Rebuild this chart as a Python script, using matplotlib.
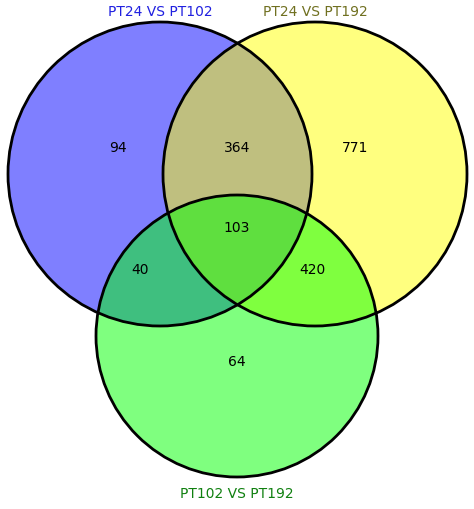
import matplotlib
matplotlib.use("Agg")
import matplotlib.pyplot as plt
from matplotlib.patches import Circle

# set names, colours and region counts
set_names = ["PT24 VS PT102", "PT24 VS PT192", "PT102 VS PT192"]
set_colors = ["#0000ff", "#ffff00", "#00ff00"]
title_colors = ["#2020e0", "#707020", "#108010"]
region_labels = ["A", "B", "C", "AB", "AC", "BC", "ABC"]
region_counts = [94, 771, 64, 364, 40, 420, 103]

# layout in pixel space
centers = [(160, 174), (315, 174), (237, 336)]
radii = [152, 152, 141]
title_pos = [(160, 12), (315, 12), (237, 494)]
region_pos = {"A": (118, 148), "B": (355, 148), "C": (237, 362), "AB": (237, 148),
              "AC": (140, 270), "BC": (312, 270), "ABC": (237, 228)}

fig = plt.figure(figsize=(4.74, 5.09), dpi=100)
ax = fig.add_axes([0, 0, 1, 1])
ax.set_xlim(0, 474); ax.set_ylim(509, 0); ax.axis("off")

for (cx, cy), r, c in zip(centers, radii, set_colors):
    ax.add_patch(Circle((cx, cy), r, fc=c, alpha=0.5, ec="none"))
for (cx, cy), r in zip(centers, radii):
    ax.add_patch(Circle((cx, cy), r, fc="none", ec="black", lw=2))

for name, (x, y), c in zip(set_names, title_pos, title_colors):
    ax.text(x, y, name, color=c, ha="center", va="center", fontsize=10)
for lab, n in zip(region_labels, region_counts):
    x, y = region_pos[lab]
    ax.text(x, y, str(n), ha="center", va="center", fontsize=10)

fig.savefig("out.png", dpi=100)
